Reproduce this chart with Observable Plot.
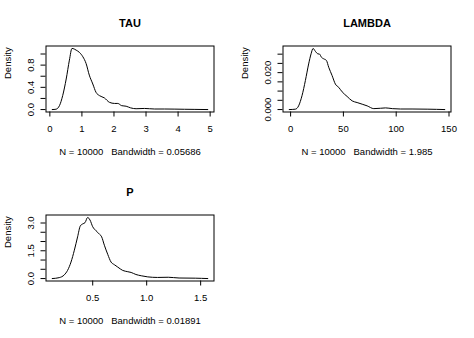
<!DOCTYPE html>
<html>
<head>
<meta charset="utf-8">
<script src="https://cdn.jsdelivr.net/npm/d3@7"></script>
<script src="https://cdn.jsdelivr.net/npm/@observablehq/plot@0.6"></script>
<style>
  html, body { margin: 0; padding: 0; background: #fff; }
  #wrap { position: relative; width: 474px; height: 338px; background: #fff; }
  #wrap > svg { position: absolute; }
</style>
</head>
<body>
<div id="wrap"></div>
<script>
// ---- Data ----
const tauX = [0.074, 0.19, 0.30, 0.40, 0.51, 0.61, 0.69, 0.76, 0.82, 0.92, 1.03, 1.13, 1.23, 1.34, 1.44, 1.55, 1.70, 1.86, 2.02, 2.12, 2.24, 2.38, 2.52, 2.69, 2.95, 3.27, 3.58, 3.9, 4.2, 4.5, 4.926];
const tauY = [0, 0.006, 0.07, 0.25, 0.55, 0.89, 1.10, 1.09, 1.07, 1.03, 0.95, 0.83, 0.62, 0.46, 0.31, 0.25, 0.21, 0.13, 0.11, 0.11, 0.07, 0.06, 0.03, 0.015, 0.02, 0.01, 0.01, 0.008, 0.005, 0.003, 0];

const lambdaX = [-1.3, 4.5, 7.6, 10.8, 14, 17.1, 19.4, 21.3, 23.5, 25.7, 27.5, 29.1, 31.3, 33.9, 36.1, 39.3, 42.4, 45.6, 48.8, 53.5, 58.3, 63, 67.8, 72.5, 78.8, 85.2, 89.9, 96.3, 104, 115, 130, 146];
const lambdaY = [0, 0.0002, 0.002, 0.0075, 0.0157, 0.0247, 0.0302, 0.0331, 0.0315, 0.0302, 0.0300, 0.0284, 0.0275, 0.0266, 0.0229, 0.0184, 0.0138, 0.0120, 0.0096, 0.0071, 0.0047, 0.0038, 0.0029, 0.0020, 0.0005, 0.0007, 0.0009, 0.0005, 0.0003, 0.0003, 0.0002, 0];

const pX = [0.125, 0.19, 0.237, 0.267, 0.299, 0.33, 0.36, 0.385, 0.407, 0.429, 0.453, 0.475, 0.5, 0.531, 0.562, 0.583, 0.608, 0.639, 0.67, 0.70, 0.732, 0.778, 0.825, 0.856, 0.90, 0.95, 1.01, 1.10, 1.2, 1.3, 1.45, 1.566];
const pY = [0, 0.05, 0.2, 0.44, 0.89, 1.53, 2.25, 2.84, 2.95, 3.02, 3.30, 3.16, 2.8, 2.58, 2.40, 2.25, 1.80, 1.31, 0.89, 0.75, 0.62, 0.44, 0.37, 0.33, 0.22, 0.15, 0.09, 0.06, 0.07, 0.03, 0.02, 0];

const titles = ["TAU", "LAMBDA", "P"];
const sampleN = [10000, 10000, 10000];
const bandwidths = ["0.05686", "1.985", "0.01891"];

const tauXTicks = [0, 1, 2, 3, 4, 5];
const lambdaXTicks = [0, 50, 100, 150];
const pXTicks = [0.5, 1.0, 1.5];

const tauYTicks = [0, 0.2, 0.4, 0.6, 0.8, 1.0];
const tauYLabels = [0, 0.4, 0.8];
const lambdaYTicks = [0, 0.005, 0.010, 0.015, 0.020, 0.025, 0.030];
const lambdaYLabels = [0, 0.020];
const pYTicks = [0, 0.5, 1.0, 1.5, 2.0, 2.5, 3.0];
const pYLabels = [0, 1.5, 3.0];

// ---- Panels ----
const FONT = "'Liberation Sans', Arial, Helvetica, sans-serif";
const W = 237, H = 169;
const mL = 45.5, mR = 23.5, mT = 45.5, mB = 57.5;

function rangeExt(a) {
  const lo = d3.min(a), hi = d3.max(a), r = hi - lo;
  return [lo - 0.04 * r, hi + 0.04 * r];
}

function panel(title, xs, ys, xTicks, xFmt, yTicks, yLabels, yFmt, n, bw) {
  const data = xs.map((x, i) => ({x, y: ys[i]}));
  const sub = `N = ${n}\u00a0\u00a0 Bandwidth = ${bw}`;
  return Plot.plot({
    width: W, height: H,
    marginLeft: mL, marginRight: mR, marginTop: mT, marginBottom: mB,
    style: {fontFamily: FONT, fontSize: "9.5px", background: "transparent", color: "#000", overflow: "visible"},
    x: {domain: rangeExt(xs), axis: null},
    y: {domain: rangeExt(ys.concat([0])), axis: null},
    marks: [
      Plot.frame({stroke: "#000", strokeWidth: 1}),
      Plot.line(data, {x: "x", y: "y", stroke: "#000", strokeWidth: 1, curve: "monotone-x"}),
      Plot.axisX({ticks: xTicks, tickSize: 5, tickPadding: 8.5, tickFormat: xFmt, label: null, fontSize: 9.5, stroke: "#000", fill: "#000"}),
      Plot.axisY({ticks: yTicks, tickSize: 5, tickFormat: () => "", label: null, stroke: "#000"}),
      Plot.text(yLabels, {y: d => d, text: yFmt, frameAnchor: "left", dx: -15.5, rotate: -90, textAnchor: "middle", lineAnchor: "middle", fontSize: 9.5, fill: "#000"}),
      Plot.text([title], {frameAnchor: "top", dy: -22.5, text: d => d, fontWeight: "bold", fontSize: 11, lineAnchor: "middle", fill: "#000"}),
      Plot.text([sub], {frameAnchor: "bottom", dy: 40, text: d => d, fontSize: 9.5, lineAnchor: "middle", fill: "#000"}),
      Plot.text(["Density"], {frameAnchor: "left", dx: -38, rotate: -90, text: d => d, fontSize: 9.5, lineAnchor: "middle", fill: "#000"})
    ]
  });
}

const wrap = document.getElementById("wrap");
const p1 = panel(titles[0], tauX, tauY, tauXTicks, d => String(d), tauYTicks, tauYLabels, d => d.toFixed(1), sampleN[0], bandwidths[0]);
const p2 = panel(titles[1], lambdaX, lambdaY, lambdaXTicks, d => String(d), lambdaYTicks, lambdaYLabels, d => d.toFixed(3), sampleN[1], bandwidths[1]);
const p3 = panel(titles[2], pX, pY, pXTicks, d => d.toFixed(1), pYTicks, pYLabels, d => d.toFixed(1), sampleN[2], bandwidths[2]);
p1.style.left = "0px"; p1.style.top = "0px";
p2.style.left = "237px"; p2.style.top = "0px";
p3.style.left = "0px"; p3.style.top = "169px";
wrap.append(p1, p2, p3);
</script>
</body>
</html>
